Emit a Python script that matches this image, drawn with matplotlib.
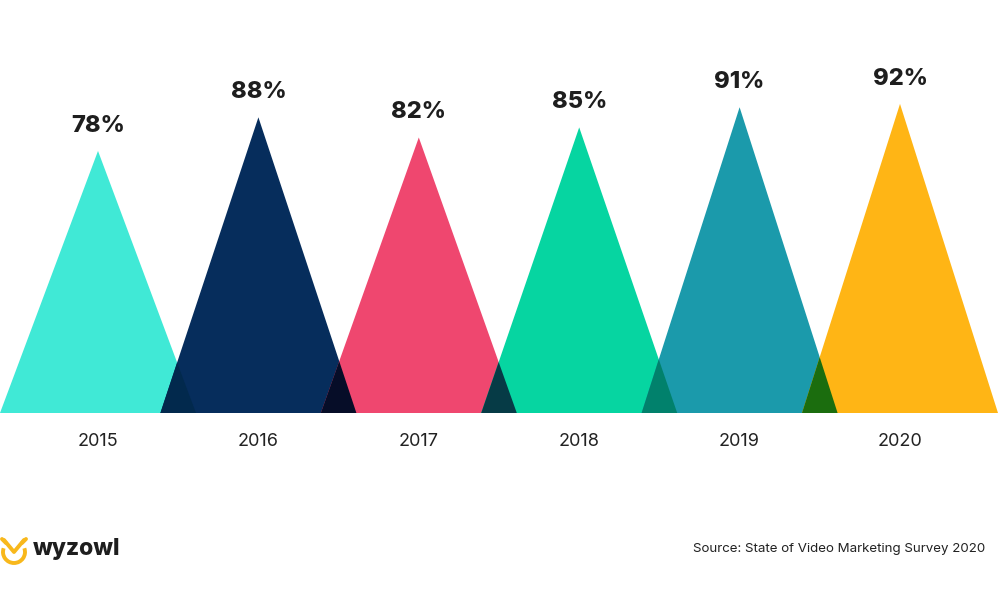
import matplotlib
matplotlib.use('Agg')
import matplotlib.pyplot as plt
from matplotlib.patches import Polygon, Arc
from matplotlib.colors import to_rgb

plt.rcParams['font.family'] = ['Inter', 'DejaVu Sans']

# ── data ──────────────────────────────────────────────
years = ['2015', '2016', '2017', '2018', '2019', '2020']
values = [78, 88, 82, 85, 91, 92]
colors = ['#40e9d6', '#062d5c', '#ef476f', '#06d5a1', '#1b9aab', '#ffb515']
source = 'Source: State of Video Marketing Survey 2020'

W, H = 1000, 600
fig = plt.figure(figsize=(W / 100, H / 100), dpi=100)
fig.patch.set_facecolor('white')

# spacing between triangle centres and half base width (in category units)
step_px = 160.4
hw = 98 / step_px
base_y = 413           # px from top
pct_px = 3.36          # px per percent

ax = fig.add_axes([0, (H - base_y) / H, 1, 100 * pct_px / H])
ax.set_xlim(-hw, -hw + W / step_px)
ax.set_ylim(0, 100)
ax.axis('off')

for i, (v, c) in enumerate(zip(values, colors)):
    ax.add_patch(Polygon([(i - hw, 0), (i, v), (i + hw, 0)], closed=True,
                         facecolor=c, edgecolor='none'))

# overlaps between neighbours drawn as multiply blend
for i in range(len(values) - 1):
    v0, v1 = values[i], values[i + 1]
    xi = (v0 * (i + hw) + v1 * (i + 1 - hw)) / (v0 + v1)
    yi = v0 * (i + hw - xi) / hw
    c0, c1 = to_rgb(colors[i]), to_rgb(colors[i + 1])
    mix = tuple(a * b for a, b in zip(c0, c1))
    ax.add_patch(Polygon([(i + 1 - hw, 0), (xi, yi), (i + hw, 0)], closed=True,
                         facecolor=mix, edgecolor='none', zorder=3))

for i, (v, y) in enumerate(zip(values, years)):
    ax.annotate(f'{v}%', (i, v), xytext=(0, 25), textcoords='offset pixels',
                ha='center', va='center', fontsize=17, fontweight='heavy',
                color='#1e1e1e')
    ax.annotate(y, (i, 0), xytext=(0, -28), textcoords='offset pixels',
                ha='center', va='center', fontsize=13, color='#222222',
                annotation_clip=False)

# ── footer ────────────────────────────────────────────
fig.text(985 / W, 1 - 549 / H, source, ha='right', va='center',
         fontsize=9.6, color='#222222')
fig.text(33 / W, 1 - 549 / H, 'wyzowl', ha='left', va='center',
         fontsize=16.5, fontweight='heavy', color='#1e1e1e')

# owl icon
lax = fig.add_axes([0, (H - 565) / H, 32 / W, 32 / H])
lax.set_xlim(0, 32)
lax.set_ylim(0, 32)
lax.axis('off')
yel = '#f8b81c'
lax.add_patch(Arc((14, 13), 22, 22, theta1=-200, theta2=20, color=yel, lw=2.8))
lax.plot([4, 14, 24], [25, 13, 25], color=yel, lw=2.8, solid_capstyle='round')
lax.plot([2, 6], [26, 22], color=yel, lw=2.8, solid_capstyle='round')
lax.plot([26, 22], [26, 22], color=yel, lw=2.8, solid_capstyle='round')

fig.savefig('out.png', dpi=100, facecolor='white')
